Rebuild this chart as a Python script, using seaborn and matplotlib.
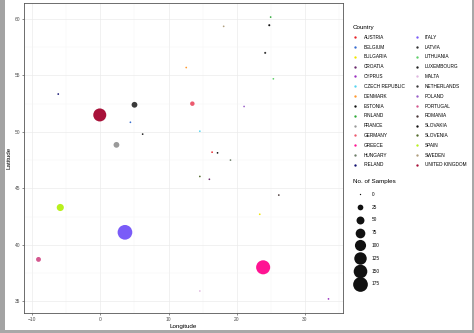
import matplotlib
matplotlib.use("Agg")
import matplotlib.pyplot as plt
from matplotlib.lines import Line2D
from matplotlib.patches import Rectangle
from matplotlib.ticker import MultipleLocator
import numpy as np
import pandas as pd
import seaborn as sns

plt.rcParams['font.family'] = ['Liberation Sans', 'DejaVu Sans']

countries = ["AUSTRIA", "BELGIUM", "BULGARIA", "CROATIA", "CYPRUS", "CZECH REPUBLIC",
             "DENMARK", "ESTONIA", "FINLAND", "FRANCE", "GERMANY", "GREECE", "HUNGARY",
             "IRELAND", "ITALY", "LATVIA", "LITHUANIA", "LUXEMBOURG", "MALTA",
             "NETHERLANDS", "POLAND", "PORTUGAL", "ROMANIA", "SLOVAKIA", "SLOVENIA",
             "SPAIN", "SWEDEN", "UNITED KINGDOM"]
longitude = [16.4, 4.4, 23.4, 16.0, 33.5, 14.6, 12.6, 24.8, 25.0, 2.35, 13.5, 23.9, 19.1,
             -6.2, 3.6, 24.2, 25.4, 6.2, 14.6, 5.0, 21.1, -9.1, 26.2, 17.2, 14.6,
             -5.9, 18.1, -0.1]
latitude = [48.2, 50.85, 42.7, 45.8, 35.2, 50.06, 55.7, 59.45, 60.17, 48.85, 52.5, 38.0, 47.5,
            53.35, 41.1, 57.0, 54.7, 49.8, 35.9, 52.4, 52.25, 38.7, 44.4, 48.14, 46.05,
            43.3, 59.35, 51.5]
samples = [1, 1, 1, 1, 1, 1, 1, 2, 1, 26, 15, 160, 1,
           1, 178, 2, 1, 1, 1, 26, 1, 18, 1, 1, 1,
           40, 1, 137]
colors = ["#e8242b", "#3a6fd0", "#f2e600", "#6b2a6b", "#9b30c0", "#55d4f0",
          "#ff9a30", "#111111", "#2faa3a", "#9a9a9a", "#ec5a6e", "#ff1493", "#6e7f6a",
          "#101070", "#7a5cf8", "#333333", "#5fcf6a", "#222222", "#e0b8e0",
          "#3a3a3a", "#9960c8", "#d4588f", "#4a3a3a", "#111111", "#556b2f",
          "#b8f01c", "#b0a080", "#a8123a"]
size_breaks = [0, 25, 50, 75, 100, 125, 150, 175]

W, H = 474, 333
fig = plt.figure(figsize=(W / 100, H / 100), dpi=100)
fig.patch.set_facecolor("white")

def fx(x):
    return x / W

def fy(y):
    return 1 - y / H

# screenshot frame
fig.patches.append(Rectangle((0, 0), fx(5), 1, transform=fig.transFigure,
                             facecolor="#a3a3a3", edgecolor="none", zorder=-5))
fig.patches.append(Rectangle((0, 0), 1, 3 / H, transform=fig.transFigure,
                             facecolor="#a8a8a8", edgecolor="none", zorder=-5))
fig.patches.append(Rectangle((fx(471.5), 0), 1, 1, transform=fig.transFigure,
                             facecolor="#a8a8a8", edgecolor="none", zorder=-5))

ax = fig.add_axes([fx(24), fy(313), fx(343) - fx(24), fy(3) - fy(313)])

df = pd.DataFrame({"Country": countries, "Longitude": longitude,
                   "Latitude": latitude, "Samples": samples})
palette = dict(zip(countries, colors))

SMIN, SMAX, VMAX = 0.9, 112.0, 175.0
sns.scatterplot(data=df, x="Longitude", y="Latitude", hue="Country", palette=palette,
                size="Samples", sizes=(SMIN, SMAX), size_norm=(0, VMAX),
                linewidth=0, legend=False, ax=ax, zorder=3)

ax.margins(x=0.05, y=0.05)
ax.xaxis.set_major_locator(MultipleLocator(10))
ax.xaxis.set_minor_locator(MultipleLocator(5))
ax.yaxis.set_major_locator(MultipleLocator(5))
ax.yaxis.set_minor_locator(MultipleLocator(2.5))
ax.grid(which="major", color="#ebebeb", linewidth=0.5)
ax.grid(which="minor", color="#f4f4f4", linewidth=0.35)
ax.set_axisbelow(True)
for s in ax.spines.values():
    s.set_color("#555555")
    s.set_linewidth(0.6)
ax.tick_params(which="major", length=1.6, width=0.4, color="#333333",
               labelsize=3.5, labelcolor="#4d4d4d", pad=1.2)
ax.tick_params(which="minor", length=0)
ax.set_xlabel("Longitude", fontsize=4.5, labelpad=1.8)
ax.set_ylabel("Latitude", fontsize=4.5, labelpad=2.0)

# Country legend
FS = 3.4
h_country = [Line2D([], [], marker="o", linestyle="", markersize=1.7,
                    markerfacecolor=c, markeredgewidth=0) for c in colors]
leg1 = fig.legend(h_country, countries, loc="upper left",
                  bbox_to_anchor=(fx(353), fy(25)), ncol=2, frameon=False,
                  fontsize=FS, title="Country", title_fontsize=4.5,
                  alignment="left", borderpad=0, handlelength=1.0,
                  handletextpad=1.3, columnspacing=2.0, labelspacing=1.02,
                  borderaxespad=0)

# Size legend
def msize(v):
    return np.sqrt(SMIN + (SMAX - SMIN) * v / VMAX)

h_size = [Line2D([], [], marker="o", linestyle="", markersize=msize(v),
                 markerfacecolor="#111111", markeredgewidth=0) for v in size_breaks]
leg2 = fig.legend(h_size, [str(v) for v in size_breaks], loc="upper left",
                  bbox_to_anchor=(fx(353), fy(179)), ncol=1, frameon=False,
                  fontsize=FS, title="No. of Samples", title_fontsize=4.5,
                  alignment="left", borderpad=0, handlelength=3.0,
                  handletextpad=1.0, labelspacing=1.65, borderaxespad=0)

fig.savefig("out.png", dpi=100, facecolor="white")
